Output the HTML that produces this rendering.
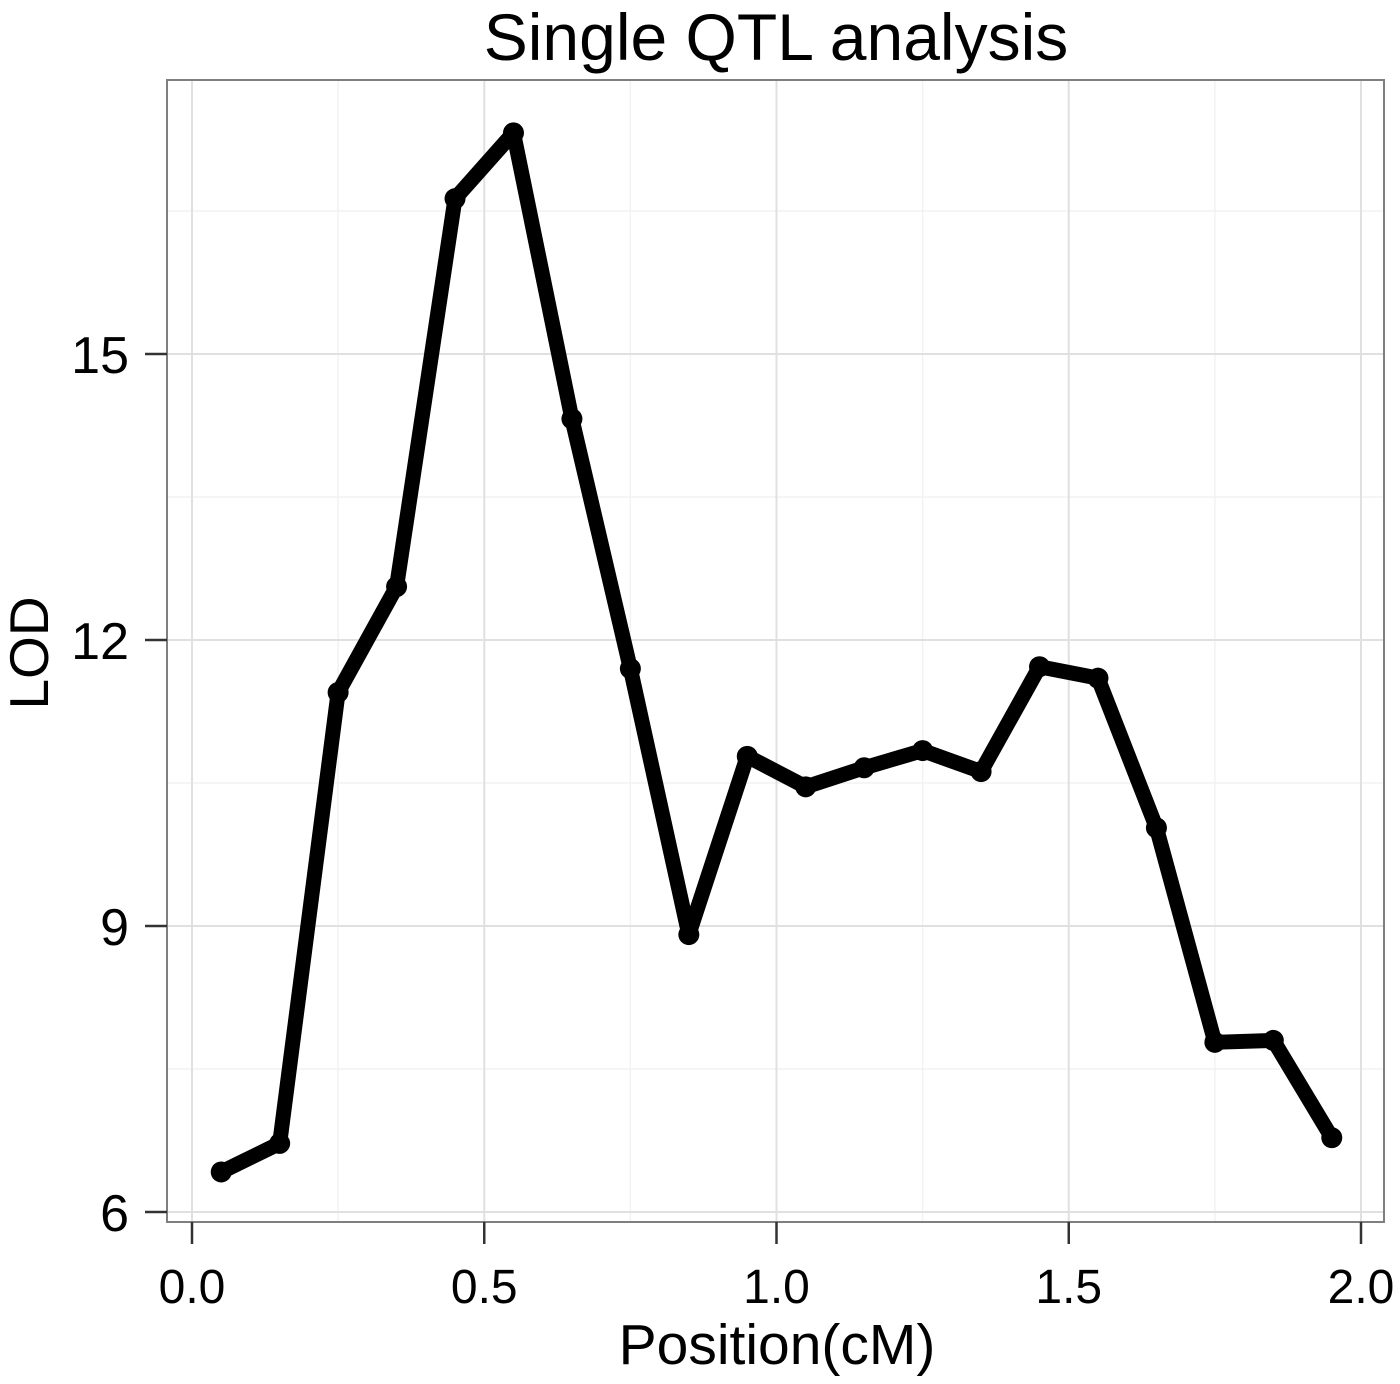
<!DOCTYPE html>
<html><head><meta charset="utf-8"><style>
body{margin:0;background:#fff}
svg{display:block;font-family:"Liberation Sans",Arial,sans-serif}
</style></head><body>
<svg id="chart" width="1400" height="1384">
<g id="grid"></g>
<rect x="167" y="80" width="1217" height="1142" fill="none" stroke="#7f7f7f" stroke-width="2"/>
<g id="axes"></g>
<g id="series"></g>
<text x="776" y="60" font-size="66" text-anchor="middle">Single QTL analysis</text>
<text x="777" y="1364" font-size="57" text-anchor="middle">Position(cM)</text>
<text transform="translate(48,653) rotate(-90)" font-size="55" text-anchor="middle">LOD</text>
</svg>
<script>
const positions=[0.05,0.15,0.25,0.35,0.45,0.55,0.65,0.75,0.85,0.95,1.05,1.15,1.25,1.35,1.45,1.55,1.65,1.75,1.85,1.95];
const lod=[6.42,6.72,11.45,12.56,16.63,17.32,14.32,11.70,8.91,10.78,10.46,10.66,10.84,10.62,11.72,11.60,10.03,7.78,7.80,6.78];
const xTicks=[0,0.5,1,1.5,2];
const xTickLabels=["0.0","0.5","1.0","1.5","2.0"];
const yTicks=[6,9,12,15];
const yTickLabels=["6","9","12","15"];
const xMinor=[0.25,0.75,1.25,1.75];
const yMinor=[7.5,10.5,13.5,16.5];
const NS="http://www.w3.org/2000/svg";
const L=167,R=1384,T=80,B=1222;
const sx=v=>192+v*584.5;
const sy=v=>1212-(v-6)*95.33;
function mk(tag,attrs,parent){const e=document.createElementNS(NS,tag);for(const k in attrs)e.setAttribute(k,attrs[k]);parent.appendChild(e);return e;}
const grid=document.getElementById('grid'),axes=document.getElementById('axes'),series=document.getElementById('series');
xMinor.forEach(v=>{const e=mk('line',{x1:sx(v),x2:sx(v),y1:T,y2:B,stroke:'#f2f2f2','stroke-width':1.5},grid);

});
yMinor.forEach(v=>{const e=mk('line',{x1:L,x2:R,y1:sy(v),y2:sy(v),stroke:'#f2f2f2','stroke-width':1.5},grid);

});
xTicks.forEach((v,i)=>{const g=mk('line',{x1:sx(v),x2:sx(v),y1:T,y2:B,stroke:'#e0e0e0','stroke-width':2},grid);


const t=mk('line',{x1:sx(v),x2:sx(v),y1:B,y2:B+22,stroke:'#333','stroke-width':2.5},axes);


const l=mk('text',{x:sx(v),y:1303,'font-size':48,'text-anchor':'middle',fill:'#000'},axes);l.textContent=xTickLabels[i];

});
yTicks.forEach((v,i)=>{const g=mk('line',{x1:L,x2:R,y1:sy(v),y2:sy(v),stroke:'#e0e0e0','stroke-width':2},grid);


const t=mk('line',{x1:L-22,x2:L,y1:sy(v),y2:sy(v),stroke:'#333','stroke-width':2.5},axes);


const l=mk('text',{x:L-38,y:sy(v)+19,'font-size':52,'text-anchor':'end',fill:'#000'},axes);l.textContent=yTickLabels[i];

});
const pts=positions.map((p,i)=>sx(p)+','+sy(lod[i])).join(' ');
const pl=mk('polyline',{points:pts,fill:'none',stroke:'#000','stroke-width':15,'stroke-linejoin':'round','stroke-linecap':'round'},series);


positions.forEach((p,i)=>{const c=mk('circle',{cx:sx(p),cy:sy(lod[i]),r:10.5,fill:'#000'},series);

});
</script>
</body></html>
